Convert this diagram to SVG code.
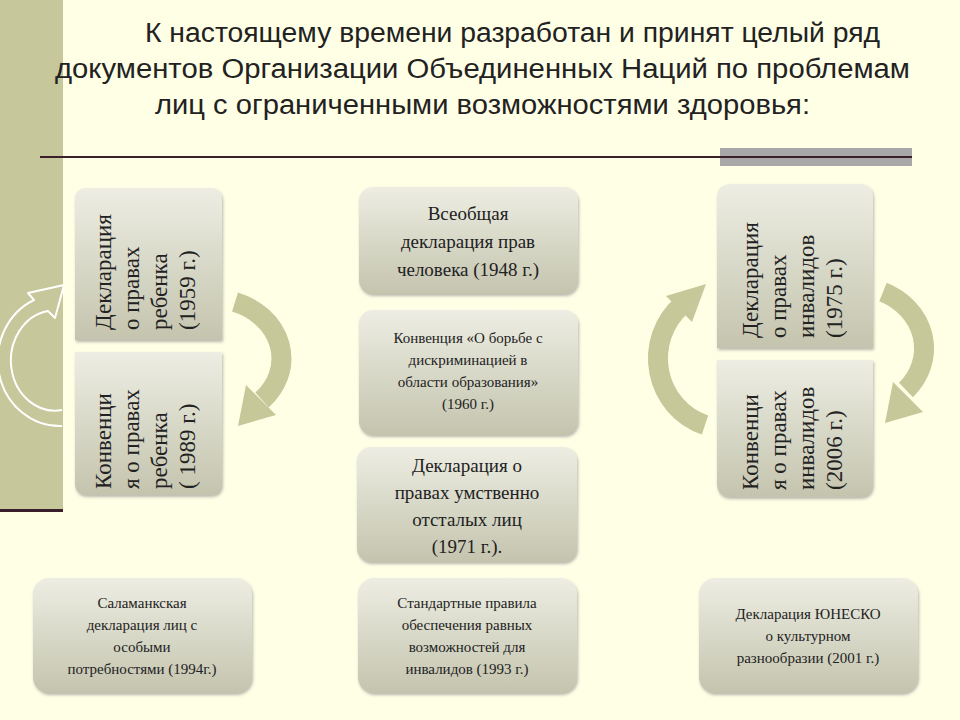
<svg xmlns="http://www.w3.org/2000/svg" width="960" height="720" viewBox="0 0 960 720">
<defs>
<linearGradient id="g" x1="0" y1="0" x2="0" y2="1"><stop offset="0" stop-color="#EDEDE3"/><stop offset="1" stop-color="#C4C4AE"/></linearGradient>
<filter id="sh" x="-10%" y="-10%" width="130%" height="130%"><feDropShadow dx="1" dy="2" stdDeviation="1.5" flood-color="#888" flood-opacity="0.6"/></filter>
<style>
.b{fill:url(#g);filter:url(#sh)}
.t{font-family:"Liberation Serif",serif;fill:#222;text-anchor:middle}
.r{font-family:"Liberation Serif",serif;fill:#222;text-anchor:start}
.h{font-family:"Liberation Sans",sans-serif;fill:#222;font-size:27px}
.arc{fill:none;stroke:#C7C89A;stroke-width:20}
.ah{fill:#C7C89A}
.wa{fill:none;stroke:#fff;stroke-width:2;stroke-linejoin:round}
</style>
</defs>
<rect width="960" height="720" fill="#FFFFE6"/>
<rect x="0" y="0" width="63" height="510" fill="#C6C79A"/>
<rect x="0" y="509" width="63" height="3" fill="#3a1f2a"/>
<rect x="720" y="148" width="192" height="18" fill="#A8A8A8"/>
<rect x="40" y="156" width="872" height="2" fill="#3a1f2a"/>
<text class="h" x="145" y="42" textLength="735" lengthAdjust="spacingAndGlyphs">К настоящему времени разработан и принят целый ряд</text>
<text class="h" x="55" y="78" textLength="855" lengthAdjust="spacingAndGlyphs">документов Организации Объединенных Наций по проблемам</text>
<text class="h" x="155" y="114" textLength="655" lengthAdjust="spacingAndGlyphs">лиц с ограниченными возможностями здоровья:</text>
<g id="connectors">
<path class="wa" d="M62 426 A62 66 0 0 1 34 300 L28 293 L64 285 L55 318 L48 311 A44 50 0 0 0 62 410"/>
<path class="arc" d="M235 302 A70 60 0 0 1 262 400"/>
<polygon class="ah" points="246,385 276,415 238,426"/>
<path class="arc" d="M705 425 A68 70 0 0 1 682 305"/>
<polygon class="ah" points="706,284 666,296 692,322"/>
<path class="arc" d="M883 292 A70 62 0 0 1 906 390"/>
<polygon class="ah" points="893,382 923,412 885,423"/>
</g>
<g id="n1"><path class="b" d="M75 200 Q75 188 87 188 L210 188 Q222 188 222 200 L222 340 L75 340 Z"/>
<text class="r" font-size="23" transform="translate(148,264) rotate(-90)"><tspan x="-66" y="-37">Декларация</tspan><tspan x="-66" y="-9">о правах</tspan><tspan x="-66" y="19">ребенка</tspan><tspan x="-66" y="47">(1959 г.)</tspan></text></g>
<g id="n2"><path class="b" d="M75 352 L222 352 L222 483 Q222 495 210 495 L87 495 Q75 495 75 483 Z"/>
<text class="r" font-size="23" transform="translate(148,423) rotate(-90)"><tspan x="-66" y="-37">Конвенци</tspan><tspan x="-66" y="-9">я о правах</tspan><tspan x="-66" y="19">ребенка</tspan><tspan x="-66" y="47">( 1989 г.)</tspan></text></g>
<g id="n3"><rect class="b" x="359" y="187" width="219" height="107" rx="14"/>
<text class="t" font-size="19"><tspan x="468" y="220">Всеобщая</tspan><tspan x="468" y="248">декларация прав</tspan><tspan x="468" y="276">человека (1948 г.)</tspan></text></g>
<g id="n4"><rect class="b" x="359" y="310" width="219" height="125" rx="14"/>
<text class="t" font-size="15"><tspan x="468" y="343">Конвенция «О борьбе с</tspan><tspan x="468" y="365">дискриминацией в</tspan><tspan x="468" y="387">области образования»</tspan><tspan x="468" y="409">(1960 г.)</tspan></text></g>
<g id="n5"><rect class="b" x="357" y="447" width="220" height="115" rx="14"/>
<text class="t" font-size="19"><tspan x="467" y="472">Декларация о</tspan><tspan x="467" y="499">правах умственно</tspan><tspan x="467" y="526">отсталых лиц</tspan><tspan x="467" y="553">(1971 г.).</tspan></text></g>
<g id="n6"><path class="b" d="M717 198 Q717 184 731 184 L859 184 Q873 184 873 198 L873 348 L717 348 Z"/>
<text class="r" font-size="23" transform="translate(795,266) rotate(-90)"><tspan x="-72" y="-37">Декларация</tspan><tspan x="-72" y="-9">о правах</tspan><tspan x="-72" y="19">инвалидов</tspan><tspan x="-72" y="47">(1975 г.)</tspan></text></g>
<g id="n7"><path class="b" d="M717 360 L873 360 L873 483 Q873 497 859 497 L731 497 Q717 497 717 483 Z"/>
<text class="r" font-size="23" transform="translate(795,428) rotate(-90)"><tspan x="-62" y="-37">Конвенци</tspan><tspan x="-62" y="-9">я о правах</tspan><tspan x="-62" y="19">инвалидов</tspan><tspan x="-62" y="47">(2006 г.)</tspan></text></g>
<g id="n8"><rect class="b" x="33" y="578" width="219" height="115" rx="16"/>
<text class="t" font-size="15"><tspan x="142" y="608">Саламанкская</tspan><tspan x="142" y="630">декларация лиц с</tspan><tspan x="142" y="652">особыми</tspan><tspan x="142" y="674">потребностями (1994г.)</tspan></text></g>
<g id="n9"><rect class="b" x="358" y="578" width="219" height="115" rx="16"/>
<text class="t" font-size="15"><tspan x="467" y="608">Стандартные правила</tspan><tspan x="467" y="630">обеспечения равных</tspan><tspan x="467" y="652">возможностей для</tspan><tspan x="467" y="674">инвалидов (1993 г.)</tspan></text></g>
<g id="n10"><rect class="b" x="699" y="578" width="219" height="115" rx="16"/>
<text class="t" font-size="15"><tspan x="808" y="619">Декларация ЮНЕСКО</tspan><tspan x="808" y="641">о культурном</tspan><tspan x="808" y="663">разнообразии (2001 г.)</tspan></text></g>
</svg>
